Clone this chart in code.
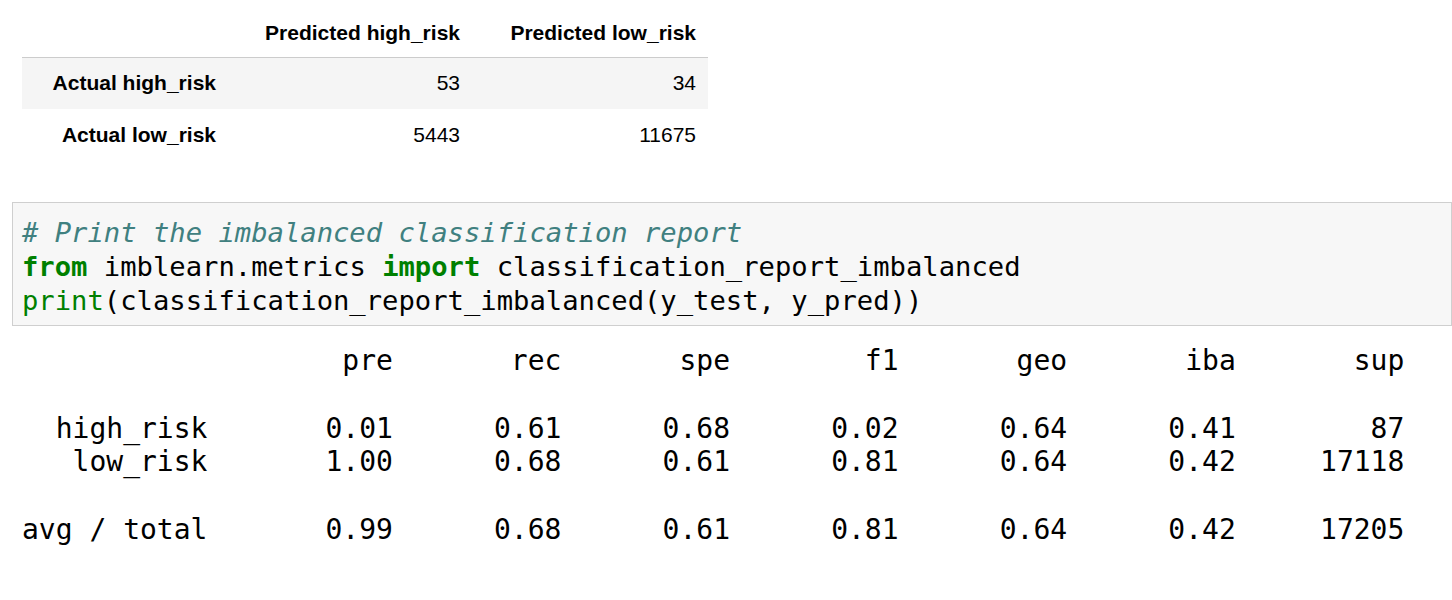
<!DOCTYPE html>
<html><head><meta charset="utf-8">
<script src="https://cdn.jsdelivr.net/npm/chart.js"></script>
<style>
body{margin:0;background:#fff;width:1452px;height:600px;overflow:hidden;position:relative;font-family:"Liberation Sans",Arial,sans-serif;}
#cm{position:absolute;left:22px;top:9px;border-collapse:collapse;font-size:21px;color:#000;table-layout:fixed;width:686px}
#cm th,#cm td{padding:0 12px;text-align:right;height:52px;box-sizing:border-box}
#cm thead th{height:48px;border-bottom:1px solid #ccc;vertical-align:middle}
#cm tbody tr:nth-child(odd){background:#f5f5f5}
#code{position:absolute;left:12px;top:202px;width:1440px;height:124px;background:#f7f7f7;border:1px solid #cfcfcf;box-sizing:border-box}
#code pre{margin:0;position:absolute;left:9px;top:13px;font-family:"DejaVu Sans Mono",monospace;font-size:27.2px;line-height:34px}
.c{color:#408080;font-style:italic}.k{color:#008000;font-weight:bold}.b{color:#008000}
#out{position:absolute;left:22px;top:344px;margin:0;font-family:"DejaVu Sans Mono",monospace;font-size:28px;line-height:33.8px;color:#000}
</style></head><body>
<table id="cm"><colgroup><col style="width:206px"><col style="width:244px"><col style="width:236px"></colgroup><thead></thead><tbody></tbody></table>
<div id="code"><pre><span class="c"># Print the imbalanced classification report</span>
<span class="k">from</span> imblearn.metrics <span class="k">import</span> classification_report_imbalanced
<span class="b">print</span>(classification_report_imbalanced(y_test, y_pred))</pre></div>
<pre id="out"></pre>
<script>
const cmCols = ["Predicted high_risk","Predicted low_risk"];
const cmRows = ["Actual high_risk","Actual low_risk"];
const cmHigh = [53, 5443];
const cmLow = [34, 11675];
const metrics = ["pre","rec","spe","f1","geo","iba","sup"];
const classes = ["high_risk","low_risk"];
const highRisk = ["0.01","0.61","0.68","0.02","0.64","0.41","87"];
const lowRisk = ["1.00","0.68","0.61","0.81","0.64","0.42","17118"];
const avgTotal = ["0.99","0.68","0.61","0.81","0.64","0.42","17205"];

const th=document.querySelector('#cm thead');
th.innerHTML='<tr><th></th>'+cmCols.map(c=>'<th>'+c+'</th>').join('')+'</tr>';
document.querySelector('#cm tbody').innerHTML=cmRows.map((r,i)=>'<tr><th>'+r+'</th><td>'+cmHigh[i]+'</td><td>'+cmLow[i]+'</td></tr>').join('');
const pad=(s,n)=>' '.repeat(Math.max(0,n-s.length))+s;
const line=(lab,vals)=>pad(lab,11)+' '+vals.map(v=>pad(v,10)).join('');
document.getElementById('out').textContent=[
 line('',metrics),'',line(classes[0],highRisk),line(classes[1],lowRisk),'',line('avg / total',avgTotal)
].join('\n');
</script>
</body></html>
